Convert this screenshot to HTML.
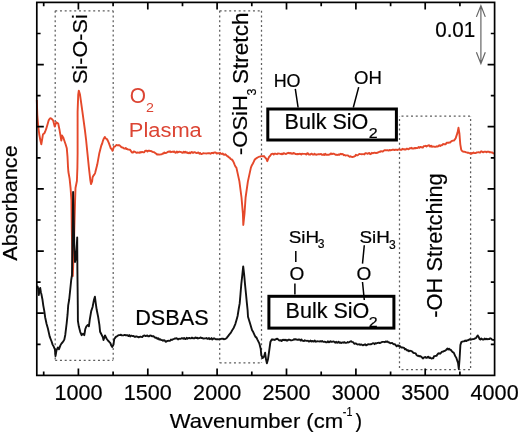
<!DOCTYPE html>
<html><head><meta charset="utf-8"><style>
html,body{margin:0;padding:0;background:#fff;}
svg{display:block;}
text{font-family:"Liberation Sans",Arial,sans-serif;}
</style></head><body>
<svg width="520" height="435" viewBox="0 0 520 435">
<rect x="0" y="0" width="520" height="435" fill="#fff"/>
<g id="dots" fill="none" stroke="#5e5e5e" stroke-width="1.25" stroke-dasharray="2 2.75">
<path d="M55.2 10.8 H113.2 M55.2 360.4 H113.2" stroke-dashoffset="0.00"/><path d="M55.2 10.8 V360.4 M113.2 10.8 V360.4" stroke-dashoffset="0.00"/>
<path d="M219.7 10.8 H261.5 M219.7 362.8 H261.5" stroke-dashoffset="0.00"/><path d="M219.7 10.8 V362.8 M261.5 10.8 V362.8" stroke-dashoffset="0.00"/>
<path d="M399.5 116.0 H470.6 M399.5 369.6 H470.6" stroke-dashoffset="2.75"/><path d="M399.5 116.0 V369.6 M470.6 116.0 V369.6" stroke-dashoffset="1.65"/>
</g>
<g id="curves" fill="none" stroke-linejoin="round">
<path d="M36.8 100.0 L37.3 115.0 L38.2 126.0 L39.2 134.0 L40.3 140.0 L41.3 144.4 L42.2 139.0 L43.0 134.2 L44.2 133.5 L45.2 131.5 L46.1 129.2 L47.5 124.5 L48.7 120.3 L49.9 118.4 L50.8 118.3 L51.8 119.0 L53.1 120.3 L54.7 126.6 L56.3 122.2 L57.2 122.9 L58.2 123.5 L59.4 129.2 L60.7 136.8 L61.3 140.6 L62.0 135.5 L63.2 137.4 L64.1 140.0 L65.5 144.0 L66.8 148.3 L67.5 156.6 L68.0 167.0 L68.4 172.0 L69.6 178.6 L70.6 188.3 L71.4 200.0 L71.8 230.0 L72.3 255.0 L72.8 276.0 L73.6 255.0 L74.3 230.0 L75.1 200.0 L75.5 188.0 L76.9 181.0 L77.4 167.6 L77.6 153.8 L77.6 112.0 L78.2 95.0 L78.8 90.6 L80.0 94.6 L82.5 112.3 L84.9 130.0 L86.1 140.0 L87.5 153.8 L88.9 167.6 L90.3 180.0 L91.0 184.1 L92.1 181.4 L92.6 177.2 L93.4 175.7 L94.3 174.6 L95.1 173.1 L97.2 164.8 L99.2 153.8 L101.3 145.5 L102.2 143.5 L103.0 140.6 L103.9 138.4 L104.8 136.9 L105.8 138.5 L106.7 138.9 L107.7 140.4 L108.8 142.9 L110.0 146.1 L110.8 148.4 L111.7 149.2 L112.5 150.8 L114.0 146.7 L115.2 146.3 L116.3 145.0 L117.2 145.1 L118.0 145.5 L118.9 145.0 L119.8 145.6 L120.7 146.4 L121.5 147.3 L122.4 147.4 L123.3 147.9 L124.1 148.5 L124.9 148.6 L125.7 147.9 L126.5 149.1 L127.3 149.0 L128.2 149.6 L129.1 149.6 L129.9 149.7 L130.8 150.8 L131.9 152.5 L132.9 152.5 L133.8 151.5 L134.8 151.7 L135.8 152.3 L136.7 152.8 L137.7 152.5 L138.5 152.7 L139.3 152.9 L140.1 152.1 L140.9 152.6 L141.7 152.0 L142.5 152.0 L143.3 152.4 L144.2 152.2 L145.0 150.9 L145.8 150.8 L146.7 150.7 L147.5 151.6 L148.4 150.7 L149.2 150.6 L150.2 151.1 L151.1 151.0 L152.1 151.7 L153.1 152.0 L153.9 152.2 L154.7 152.6 L155.5 153.3 L156.3 153.7 L157.1 154.6 L157.9 154.4 L158.9 154.5 L159.8 154.6 L160.8 154.4 L161.7 154.4 L162.7 153.5 L163.5 153.5 L164.4 152.5 L165.2 153.1 L166.0 153.0 L166.8 152.6 L167.7 151.9 L168.5 151.5 L169.3 151.9 L170.1 151.3 L170.9 152.2 L171.7 151.9 L172.5 151.6 L173.3 152.0 L174.2 151.4 L175.1 152.5 L175.9 152.8 L176.8 151.5 L177.7 152.5 L178.6 152.0 L179.4 151.7 L180.3 151.9 L181.2 152.2 L182.0 152.6 L182.8 152.8 L183.7 151.7 L184.5 152.5 L185.3 151.7 L186.1 152.7 L186.9 152.2 L187.8 153.0 L188.6 153.2 L189.4 152.5 L190.2 153.3 L191.0 152.3 L191.9 152.0 L192.7 152.8 L193.5 152.7 L194.3 152.1 L195.2 152.4 L196.0 152.8 L196.8 153.1 L197.7 152.6 L198.5 152.5 L199.4 153.7 L200.2 153.0 L201.0 154.0 L201.9 154.0 L202.7 153.5 L203.6 153.3 L204.4 153.4 L205.3 153.4 L206.2 153.5 L207.1 153.4 L207.9 153.3 L208.8 153.2 L209.7 153.3 L210.6 153.7 L211.5 153.0 L212.3 152.8 L213.2 153.2 L214.1 152.4 L215.0 152.7 L215.8 152.5 L216.7 153.6 L217.5 153.1 L218.4 153.2 L219.2 153.3 L220.1 152.8 L220.9 153.6 L221.8 154.0 L222.6 153.5 L223.5 154.5 L224.4 154.8 L225.2 154.2 L226.1 155.0 L226.9 155.8 L227.7 156.2 L228.5 157.2 L229.4 157.4 L230.2 158.5 L231.0 159.2 L231.8 159.5 L232.7 160.5 L233.6 162.1 L234.6 164.6 L235.5 166.6 L236.4 167.6 L239.4 181.4 L241.5 197.5 L242.9 213.6 L243.3 225.0 L244.5 213.6 L245.6 197.5 L247.9 181.4 L250.9 167.6 L251.9 165.2 L252.9 163.5 L253.8 161.7 L254.8 159.5 L255.7 158.7 L256.6 158.1 L257.6 157.5 L258.5 157.0 L259.4 156.6 L260.3 156.6 L261.2 156.1 L262.2 156.1 L263.1 156.5 L264.0 156.0 L265.5 158.0 L266.4 158.9 L267.3 161.2 L268.1 159.2 L269.0 157.0 L270.1 155.9 L271.2 154.2 L272.0 153.9 L272.9 153.7 L273.7 154.5 L274.5 153.7 L275.4 153.6 L276.2 153.9 L277.1 154.2 L277.9 153.4 L278.7 153.6 L279.6 153.6 L280.4 153.8 L281.2 154.2 L282.0 153.6 L282.9 154.2 L283.7 153.2 L284.5 153.4 L285.3 153.8 L286.1 154.0 L287.0 153.4 L287.8 153.0 L288.6 152.8 L289.4 153.4 L290.3 152.9 L291.1 153.7 L291.9 153.2 L292.8 153.8 L293.6 153.0 L294.5 153.3 L295.4 154.1 L296.2 154.0 L297.1 154.4 L297.9 153.9 L298.8 154.2 L299.6 153.7 L300.5 153.9 L301.3 154.5 L302.1 153.8 L302.9 153.9 L303.8 153.9 L304.6 153.9 L305.4 153.9 L306.2 154.5 L307.1 153.5 L307.9 153.2 L308.7 154.5 L309.5 154.4 L310.4 154.5 L311.2 153.8 L312.0 153.8 L312.8 154.6 L313.7 154.6 L314.5 153.7 L315.3 154.5 L316.1 154.7 L317.0 154.5 L317.8 154.4 L318.6 154.1 L319.4 154.3 L320.3 154.2 L321.1 154.0 L321.9 154.7 L322.7 154.8 L323.6 154.3 L324.4 154.9 L325.2 153.8 L326.1 154.9 L326.9 154.6 L327.7 154.8 L328.5 154.7 L329.4 154.6 L330.2 154.1 L331.0 153.3 L331.9 154.2 L332.7 153.8 L333.6 153.6 L334.5 154.0 L335.5 154.7 L336.4 154.8 L337.3 155.0 L338.3 154.5 L339.4 154.8 L340.4 153.8 L341.2 154.2 L342.1 154.0 L342.9 154.1 L343.7 155.2 L344.5 154.9 L345.4 155.6 L346.2 155.4 L347.1 155.4 L348.0 155.5 L348.9 156.2 L349.7 156.8 L350.6 156.2 L351.5 156.9 L352.4 157.0 L353.2 156.9 L354.1 156.5 L355.0 156.2 L355.9 154.8 L356.8 155.4 L357.6 155.4 L358.5 154.6 L359.3 153.9 L360.2 154.1 L361.0 154.1 L361.8 154.3 L362.7 154.1 L363.5 154.1 L364.4 154.5 L365.2 153.3 L366.0 153.3 L366.9 153.4 L367.7 153.8 L368.5 153.2 L369.4 153.0 L370.2 154.2 L371.0 153.9 L371.9 152.8 L372.7 153.3 L373.6 152.9 L374.4 152.8 L375.2 152.8 L376.1 153.1 L376.9 152.8 L377.7 152.7 L378.6 152.2 L379.4 151.7 L380.3 151.7 L381.1 151.1 L382.0 151.5 L382.8 151.5 L383.7 150.8 L384.5 150.2 L385.4 150.1 L386.2 150.3 L387.0 150.1 L387.9 150.3 L388.7 150.5 L389.5 149.9 L390.4 150.4 L391.2 150.1 L392.1 149.8 L392.9 149.7 L393.7 149.8 L394.6 150.0 L395.4 149.7 L396.3 149.6 L397.2 150.0 L398.2 149.6 L399.1 149.3 L400.0 149.7 L400.8 149.7 L401.6 149.8 L402.4 148.8 L403.2 149.2 L404.1 149.1 L404.9 149.6 L405.7 149.6 L406.5 148.7 L407.3 148.8 L408.1 149.3 L408.9 149.0 L409.7 148.2 L410.5 148.3 L411.4 147.8 L412.2 148.6 L413.0 148.3 L413.8 148.5 L414.6 147.9 L415.4 148.3 L416.2 148.0 L417.0 148.1 L417.8 147.8 L418.7 147.1 L419.5 147.8 L420.3 146.9 L421.1 147.0 L421.9 147.5 L422.8 147.6 L423.7 146.3 L424.6 146.1 L425.6 145.8 L426.5 146.6 L427.4 145.8 L428.3 145.5 L429.2 145.3 L430.1 146.6 L431.1 145.7 L432.0 146.8 L432.9 146.4 L433.8 146.6 L434.7 146.8 L435.6 146.9 L436.6 146.3 L437.5 146.6 L438.4 146.1 L439.3 145.2 L440.2 145.9 L441.1 145.2 L442.1 145.2 L443.0 144.0 L443.9 144.3 L444.8 144.3 L445.7 144.3 L446.6 142.7 L447.6 142.8 L448.5 142.8 L449.4 142.4 L450.3 142.5 L451.2 141.3 L452.1 140.9 L453.0 140.6 L453.9 140.6 L454.9 139.4 L455.8 137.9 L457.6 132.4 L458.5 127.8 L459.4 133.3 L460.3 144.3 L461.2 149.7 L462.1 151.0 L463.1 151.6 L464.0 151.7 L464.9 151.9 L465.8 152.2 L466.8 152.4 L467.7 152.8 L468.6 152.6 L469.5 153.4 L470.3 153.3 L471.1 153.9 L471.9 153.0 L472.7 153.3 L473.6 152.4 L474.4 153.1 L475.2 153.1 L476.0 152.8 L476.8 152.5 L477.6 152.4 L478.4 152.3 L479.2 152.4 L480.0 152.7 L480.9 151.5 L481.7 151.3 L482.5 152.1 L483.3 152.3 L484.1 151.6 L484.9 151.7 L485.7 151.7 L486.5 152.2 L487.3 151.6 L488.2 151.8 L489.0 151.8 L489.8 152.4 L490.6 152.1 L491.4 152.5 L492.4 152.5 L493.5 153.4 L494.5 153.5" stroke="#e5482a" stroke-width="1.9"/>
<path d="M36.8 288.0 L37.6 286.5 L38.3 289.0 L38.8 295.0 L39.4 290.5 L40.2 288.0 L40.9 292.5 L41.5 294.6 L42.4 299.2 L43.3 305.6 L44.3 311.1 L45.2 317.5 L46.6 324.0 L47.9 328.5 L49.7 336.6 L51.6 341.5 L52.6 344.6 L53.6 346.4 L54.9 349.3 L55.5 356.2 L56.5 350.3 L57.9 347.4 L59.0 349.3 L60.4 345.4 L61.4 343.6 L62.4 342.5 L63.3 341.4 L64.3 339.6 L65.3 334.7 L66.7 323.0 L67.6 314.2 L68.2 305.4 L69.2 299.5 L70.2 289.8 L71.2 280.0 L72.0 275.0 L72.5 240.0 L72.9 210.0 L73.1 192.0 L73.6 215.0 L74.3 245.0 L75.0 262.0 L75.8 258.0 L76.6 250.0 L77.2 237.5 L77.4 270.0 L77.6 287.0 L77.8 305.0 L77.9 320.8 L78.8 326.3 L80.2 331.8 L81.6 335.2 L82.9 333.8 L84.3 335.2 L85.3 329.0 L86.4 326.3 L87.8 324.9 L88.9 326.3 L89.8 319.4 L91.2 311.1 L92.6 307.0 L93.9 300.1 L94.9 296.7 L95.7 302.9 L96.7 309.8 L98.1 316.6 L99.4 324.9 L100.1 331.8 L101.5 334.5 L102.9 337.3 L103.5 340.0 L105.0 335.4 L106.5 338.5 L108.1 340.8 L109.2 341.8 L110.4 343.1 L111.3 345.6 L112.2 347.0 L113.5 344.6 L114.2 339.2 L115.8 336.9 L116.9 336.3 L118.1 335.4 L119.0 335.1 L120.0 335.0 L121.0 334.7 L121.9 335.4 L122.9 335.4 L123.8 335.2 L124.8 334.9 L125.8 335.4 L126.7 335.2 L127.5 335.2 L128.4 336.0 L129.3 335.1 L130.2 336.4 L131.0 335.7 L131.9 335.8 L132.8 336.1 L133.6 336.0 L134.5 336.7 L135.3 336.8 L136.2 336.5 L137.0 336.5 L137.9 337.0 L138.7 337.3 L139.6 336.9 L140.5 336.6 L141.3 336.9 L142.2 337.1 L143.0 336.2 L143.9 335.7 L144.7 335.5 L145.6 336.1 L146.4 335.8 L147.3 335.4 L148.2 336.2 L149.1 336.3 L150.1 335.5 L151.0 335.6 L151.9 336.2 L152.8 336.1 L153.7 336.3 L154.7 337.4 L155.6 337.9 L156.5 337.7 L157.4 338.8 L158.4 338.3 L159.3 339.6 L160.3 339.3 L161.2 340.0 L162.1 340.1 L163.0 340.8 L163.8 340.1 L164.7 340.4 L165.6 341.8 L166.5 341.5 L167.4 340.9 L168.3 340.8 L169.2 340.9 L170.1 340.8 L171.0 339.5 L171.9 340.0 L172.9 339.3 L174.0 338.9 L175.0 338.5 L175.8 338.5 L176.6 338.2 L177.4 338.8 L178.2 339.4 L179.0 338.7 L179.8 338.9 L180.7 338.9 L181.5 338.2 L182.4 338.3 L183.2 338.8 L184.1 337.9 L185.0 339.0 L185.8 339.0 L186.7 337.7 L187.5 338.8 L188.4 338.1 L189.3 337.9 L190.1 338.4 L191.0 338.4 L191.9 337.6 L192.8 338.2 L193.6 338.1 L194.5 338.3 L195.4 337.4 L196.2 338.1 L197.1 337.7 L198.0 338.5 L198.8 338.1 L199.7 338.0 L200.5 337.4 L201.4 338.0 L202.3 337.9 L203.1 338.5 L204.0 338.5 L204.8 338.4 L205.7 338.4 L206.5 338.0 L207.3 338.7 L208.2 338.7 L209.0 338.1 L209.8 339.2 L210.6 338.9 L211.5 338.1 L212.3 339.4 L213.1 338.8 L214.0 338.3 L214.8 338.7 L215.7 339.3 L216.6 339.2 L217.5 339.2 L218.3 339.4 L219.2 339.2 L220.1 339.1 L221.0 338.9 L222.0 338.7 L222.9 338.6 L223.8 339.2 L224.8 339.0 L225.9 338.6 L226.9 337.7 L228.1 336.2 L229.2 334.6 L230.3 333.4 L231.5 331.5 L232.7 329.4 L233.8 327.7 L235.4 323.8 L236.5 320.0 L237.6 316.0 L238.7 309.0 L239.7 303.4 L240.5 294.0 L241.3 284.1 L242.3 275.0 L243.2 266.4 L244.2 275.0 L245.0 284.1 L246.0 294.0 L246.9 303.4 L247.6 310.0 L248.0 316.7 L250.0 323.3 L252.0 330.0 L252.9 331.4 L253.8 333.4 L254.7 335.3 L255.6 337.2 L256.4 337.3 L257.3 339.3 L258.3 341.3 L259.3 343.3 L260.7 348.7 L261.3 355.3 L262.7 358.0 L264.0 356.7 L265.1 352.7 L266.0 359.3 L266.9 363.3 L268.0 359.3 L269.3 350.0 L270.4 342.0 L271.2 340.3 L272.0 339.3 L272.9 339.9 L273.8 339.5 L274.7 340.0 L275.6 339.3 L276.4 339.0 L277.3 338.7 L278.2 339.4 L279.1 340.3 L280.0 340.5 L280.8 340.2 L281.7 341.0 L282.5 339.8 L283.3 340.0 L284.2 339.7 L285.0 340.3 L285.8 339.7 L286.6 340.6 L287.5 340.5 L288.3 339.6 L289.1 339.6 L289.9 339.9 L290.8 340.3 L291.6 340.4 L292.4 340.2 L293.2 339.9 L294.0 339.2 L294.9 339.5 L295.7 339.2 L296.5 339.6 L297.3 339.7 L298.2 339.9 L299.0 339.4 L299.8 339.6 L300.6 340.5 L301.5 339.4 L302.3 340.7 L303.1 340.9 L304.0 341.0 L304.8 340.3 L305.6 340.6 L306.4 340.8 L307.3 340.9 L308.1 340.8 L308.9 341.6 L309.7 341.2 L310.6 340.6 L311.4 341.5 L312.2 341.0 L313.0 341.3 L313.9 341.5 L314.7 340.5 L315.5 341.7 L316.3 341.5 L317.1 341.3 L318.0 341.4 L318.8 341.4 L319.6 341.5 L320.4 341.1 L321.3 341.6 L322.1 340.9 L322.9 341.6 L323.7 341.9 L324.6 341.6 L325.4 341.8 L326.2 342.4 L327.1 342.3 L327.9 341.2 L328.7 342.3 L329.5 342.0 L330.4 341.2 L331.2 341.9 L332.0 341.7 L332.8 341.6 L333.7 341.4 L334.5 342.1 L335.3 342.7 L336.1 341.8 L336.9 342.7 L337.8 342.5 L338.6 341.7 L339.4 342.8 L340.2 342.4 L341.1 343.0 L341.9 342.7 L342.7 342.4 L343.5 342.7 L344.4 342.1 L345.2 342.7 L346.1 342.9 L346.9 342.7 L347.8 342.0 L348.6 342.5 L349.5 342.0 L350.3 341.4 L351.2 341.3 L352.0 341.9 L353.1 342.2 L354.3 343.8 L355.1 343.5 L356.0 343.5 L356.8 344.1 L357.6 344.5 L358.5 344.4 L359.3 344.3 L360.2 344.8 L361.0 344.4 L361.8 344.7 L362.7 345.3 L363.5 345.0 L364.4 344.8 L365.2 344.3 L366.1 345.3 L366.9 345.0 L367.8 344.4 L368.7 344.3 L369.5 344.4 L370.4 344.3 L371.2 344.3 L372.1 343.7 L372.9 343.2 L373.8 343.4 L374.6 344.2 L375.5 343.1 L376.3 343.5 L377.2 343.0 L378.0 342.9 L378.9 342.7 L379.7 343.1 L380.6 342.8 L381.4 342.3 L382.3 341.9 L383.1 341.9 L384.0 341.9 L384.9 342.2 L385.7 341.4 L386.6 341.9 L387.5 341.4 L388.4 342.3 L389.4 342.5 L390.3 343.2 L391.2 343.1 L392.1 342.9 L393.1 343.9 L394.0 344.3 L395.0 344.2 L395.9 345.4 L396.7 346.3 L397.5 345.5 L398.4 345.5 L399.2 346.4 L400.0 346.1 L400.8 346.9 L401.6 347.5 L402.4 347.5 L403.2 347.6 L404.1 347.9 L404.9 349.3 L405.7 349.0 L406.5 349.8 L407.3 350.5 L408.2 350.3 L409.0 351.3 L409.8 350.6 L410.6 350.8 L411.5 351.1 L412.3 351.7 L413.1 352.7 L414.0 353.0 L414.8 353.1 L415.6 353.3 L416.4 354.8 L417.3 355.7 L418.1 355.6 L419.1 356.3 L420.0 356.0 L421.0 356.6 L421.9 357.3 L422.9 358.5 L423.7 357.7 L424.5 357.3 L425.3 357.0 L426.1 357.7 L426.9 357.8 L427.7 356.9 L428.5 356.7 L429.3 358.0 L430.1 357.5 L430.9 358.2 L431.7 358.5 L432.5 358.1 L433.3 358.2 L434.1 356.2 L434.9 356.1 L435.7 355.9 L436.5 355.9 L437.3 354.6 L438.3 353.5 L439.2 353.3 L440.2 353.7 L441.2 352.7 L442.1 351.6 L443.1 351.6 L444.1 351.0 L445.0 350.8 L446.1 349.9 L447.3 348.5 L448.2 349.5 L449.1 348.7 L449.9 349.8 L450.8 349.8 L451.8 351.1 L452.7 352.2 L453.7 352.7 L454.5 354.4 L455.4 356.5 L456.2 357.5 L458.1 363.3 L458.8 369.0 L459.6 358.5 L460.4 345.0 L461.3 342.1 L462.3 341.6 L463.2 341.4 L464.2 341.2 L465.2 340.5 L466.1 341.1 L467.1 340.4 L468.1 340.2 L469.1 339.6 L470.0 339.2 L470.9 339.8 L471.9 339.2 L472.9 339.1 L473.9 339.1 L474.8 338.4 L475.8 338.3 L476.8 336.8 L477.7 335.4 L478.6 336.8 L479.6 339.2 L480.4 339.5 L481.3 338.5 L482.1 339.2 L482.9 339.6 L483.7 339.5 L484.6 338.6 L485.4 339.2 L486.2 338.7 L487.0 339.4 L487.8 339.0 L488.6 339.2 L489.4 339.0 L490.2 338.3 L491.1 338.6 L492.1 339.7 L493.1 339.9 L494.0 340.0" stroke="#111" stroke-width="1.9"/>
</g>
<g id="frame">
<rect x="36.8" y="2.4" width="457.8" height="373.0" fill="none" stroke="#000" stroke-width="1.7"/>
<path d="M43.7 375.4 V371.6 M43.7 2.4 V6.2 M78.4 375.4 V368.4 M78.4 2.4 V9.4 M113.1 375.4 V371.6 M113.1 2.4 V6.2 M147.8 375.4 V368.4 M147.8 2.4 V9.4 M182.5 375.4 V371.6 M182.5 2.4 V6.2 M217.1 375.4 V368.4 M217.1 2.4 V9.4 M251.8 375.4 V371.6 M251.8 2.4 V6.2 M286.5 375.4 V368.4 M286.5 2.4 V9.4 M321.2 375.4 V371.6 M321.2 2.4 V6.2 M355.9 375.4 V368.4 M355.9 2.4 V9.4 M390.6 375.4 V371.6 M390.6 2.4 V6.2 M425.2 375.4 V368.4 M425.2 2.4 V9.4 M459.9 375.4 V371.6 M459.9 2.4 V6.2 M36.8 33.5 H40.6 M494.6 33.5 H490.8 M36.8 64.6 H43.8 M494.6 64.6 H487.6 M36.8 95.7 H40.6 M494.6 95.7 H490.8 M36.8 126.7 H43.8 M494.6 126.7 H487.6 M36.8 157.8 H40.6 M494.6 157.8 H490.8 M36.8 188.9 H43.8 M494.6 188.9 H487.6 M36.8 220.0 H40.6 M494.6 220.0 H490.8 M36.8 251.1 H43.8 M494.6 251.1 H487.6 M36.8 282.1 H40.6 M494.6 282.1 H490.8 M36.8 313.2 H43.8 M494.6 313.2 H487.6 M36.8 344.3 H40.6 M494.6 344.3 H490.8" stroke="#000" stroke-width="1.7" fill="none"/>
<path d="M480.9 5.6 V63.6 M476.4 16.9 L480.9 5.6 L485.3 16.9 M476.4 52.3 L480.9 63.6 L485.3 52.3" stroke="#666" stroke-width="1.2" fill="none"/>
</g>
<g id="mol" fill="none" stroke="#000">
<rect x="267.8" y="109.0" width="128.6" height="31.0" stroke-width="3"/>
<rect x="268.9" y="296.3" width="125" height="31.8" stroke-width="3"/>
<path d="M295.3 88.8 L298.1 107.5 M358.7 87.1 L353.3 107.5 M295.8 250.9 V262.1 M294.9 283.6 V294.5 M364.3 245.2 L362.5 263.6 M362.5 282 L364.3 300" stroke-width="1.5"/>
</g>
<g id="texts">
<text id="t1000" transform="matrix(1.0302 0 0 1.0440 78.42 399.85)" font-size="21" fill="#000" text-anchor="middle" stroke="#000" stroke-width="0.2">1000</text>
<text id="t1500" transform="matrix(1.0302 0 0 1.0440 147.78 399.85)" font-size="21" fill="#000" text-anchor="middle" stroke="#000" stroke-width="0.2">1500</text>
<text id="t2000" transform="matrix(1.0302 0 0 1.0440 217.15 399.85)" font-size="21" fill="#000" text-anchor="middle" stroke="#000" stroke-width="0.2">2000</text>
<text id="t2500" transform="matrix(1.0302 0 0 1.0440 286.51 399.85)" font-size="21" fill="#000" text-anchor="middle" stroke="#000" stroke-width="0.2">2500</text>
<text id="t3000" transform="matrix(1.0302 0 0 1.0440 355.87 399.85)" font-size="21" fill="#000" text-anchor="middle" stroke="#000" stroke-width="0.2">3000</text>
<text id="t3500" transform="matrix(1.0302 0 0 1.0440 425.24 399.85)" font-size="21" fill="#000" text-anchor="middle" stroke="#000" stroke-width="0.2">3500</text>
<text id="t4000" transform="matrix(1.0302 0 0 1.0440 494.60 399.85)" font-size="21" fill="#000" text-anchor="middle" stroke="#000" stroke-width="0.2">4000</text>
<text id="wav" transform="matrix(1.0527 0 0 0.9880 169.69 428.14)" font-size="21" fill="#000" stroke="#000" stroke-width="0.2">Wavenumber (cm</text>
<text id="sup1" transform="matrix(0.8269 0 0 0.9588 342.82 416.40)" font-size="13" fill="#000" stroke="#000" stroke-width="0.2">-1</text>
<text id="rpar" transform="matrix(0.9344 0 0 0.9829 355.60 428.27)" font-size="21" fill="#000" stroke="#000" stroke-width="0.2">)</text>
<text id="absb" transform="matrix(0 -1.0316 0.9848 0 17.29 260.80)" font-size="21" fill="#000" stroke="#000" stroke-width="0.2">Absorbance</text>
<text id="siosi" transform="matrix(0 -1.0320 0.9524 0 86.60 84.08)" font-size="21" fill="#000" stroke="#000" stroke-width="0.2">Si-O-Si</text>
<text id="osih" transform="matrix(0 -1.0460 0.9200 0 247.21 154.99)" font-size="21" fill="#000" stroke="#000" stroke-width="0.2">-OSiH</text>
<text id="osih3" transform="matrix(0 -0.9555 0.9967 0 255.87 95.40)" font-size="13" fill="#000" stroke="#000" stroke-width="0.2">3</text>
<text id="stretch" transform="matrix(0 -1.0755 1.0236 0 247.79 84.02)" font-size="21" fill="#000" stroke="#000" stroke-width="0.2">Stretch</text>
<text id="ohs" transform="matrix(0 -1.0403 1.0084 0 441.65 317.68)" font-size="21" fill="#000" stroke="#000" stroke-width="0.2">-OH Stretching</text>
<text id="p01" transform="matrix(0.9831 0 0 1.0530 435.17 37.38)" font-size="21" fill="#000" stroke="#000" stroke-width="0.2">0.01</text>
<text id="o2o" transform="matrix(0.9941 0 0 1.0262 129.86 103.38)" font-size="21" fill="#dc4433">O</text>
<text id="o2s" transform="matrix(1.0989 0 0 1.0000 145.99 112.20)" font-size="13" fill="#dc4433">2</text>
<text id="plasma" transform="matrix(1.0416 0 0 0.9718 128.85 136.60)" font-size="21" fill="#dc4433">Plasma</text>
<text id="dsbas" transform="matrix(1.0326 0 0 1.0664 135.17 325.28)" font-size="21" fill="#000" stroke="#000" stroke-width="0.2">DSBAS</text>
<text id="ho" transform="matrix(0.9976 0 0 1.0329 273.66 86.61)" font-size="18" fill="#000" stroke="#000" stroke-width="0.2">HO</text>
<text id="oh" transform="matrix(1.0303 0 0 1.0407 354.07 83.81)" font-size="18" fill="#000" stroke="#000" stroke-width="0.2">OH</text>
<text id="bulk1" transform="matrix(1.0252 0 0 1.0139 284.60 129.26)" font-size="21" fill="#000" stroke="#000" stroke-width="0.2">Bulk SiO</text>
<text id="bulk1s" transform="matrix(1.1460 0 0 1.0918 368.80 137.80)" font-size="14" fill="#000" stroke="#000" stroke-width="0.2">2</text>
<text id="bulk2" transform="matrix(1.0252 0 0 1.0139 285.55 318.41)" font-size="21" fill="#000" stroke="#000" stroke-width="0.2">Bulk SiO</text>
<text id="bulk2s" transform="matrix(1.1460 0 0 1.0918 368.80 326.80)" font-size="14" fill="#000" stroke="#000" stroke-width="0.2">2</text>
<text id="sih1" transform="matrix(1.1785 0 0 0.9864 288.70 243.14)" font-size="16" fill="#000" stroke="#000" stroke-width="0.2">SiH</text>
<text id="sih1s" transform="matrix(1.0088 0 0 1.0270 317.84 248.25)" font-size="12" fill="#000" stroke="#000" stroke-width="0.2">3</text>
<text id="sih2" transform="matrix(1.1785 0 0 0.9864 359.50 243.04)" font-size="16" fill="#000" stroke="#000" stroke-width="0.2">SiH</text>
<text id="sih2s" transform="matrix(1.0088 0 0 1.0270 388.89 248.70)" font-size="12" fill="#000" stroke="#000" stroke-width="0.2">3</text>
<text id="o1" transform="matrix(1.0584 0 0 1.0446 289.57 280.19)" font-size="18" fill="#000" stroke="#000" stroke-width="0.2">O</text>
<text id="o2" transform="matrix(1.0584 0 0 1.0446 356.42 279.74)" font-size="18" fill="#000" stroke="#000" stroke-width="0.2">O</text>
</g>
</svg>
</body></html>
